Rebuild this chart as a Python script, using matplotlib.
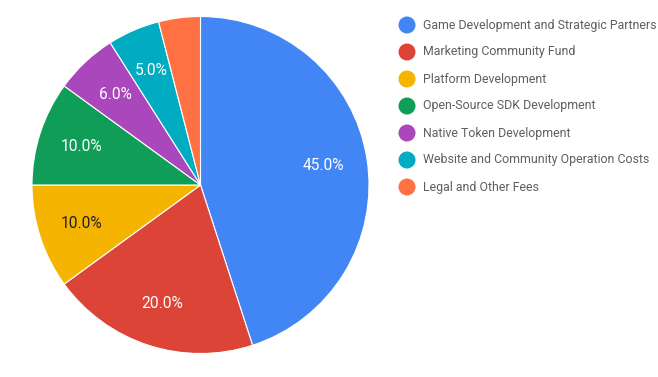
import matplotlib.pyplot as plt

labels = ['Game Development and Strategic Partners', 'Marketing Community Fund',
          'Platform Development', 'Open-Source SDK Development',
          'Native Token Development', 'Website and Community Operation Costs',
          'Legal and Other Fees']
shares = [45.0, 20.0, 10.0, 10.0, 6.0, 5.0, 4.0]
colors = ['#4285F4', '#DB4437', '#F4B400', '#0F9D58', '#AB47BC', '#00ACC1', '#FF7043']

plt.rcParams['font.family'] = ['Roboto', 'DejaVu Sans']

W, H = 658, 377
fig = plt.figure(figsize=(W / 100, H / 100), dpi=100)

cx, cy, r = 200.5, 185, 168.5
ax = fig.add_axes([(cx - r) / W, (H - cy - r) / H, 2 * r / W, 2 * r / H])
wedges, texts = ax.pie(shares, colors=colors, startangle=90, counterclock=False,
                       labels=[f'{v:.1f}%' if v >= 5 else '' for v in shares],
                       labeldistance=0.74,
                       wedgeprops=dict(edgecolor='white', linewidth=0.8))
for t, c in zip(texts, colors):
    t.set_fontsize(11.2)
    t.set_color('#222222' if c == '#F4B400' else 'white')
    t.set_ha('center')
    t.set_va('center')
ax.set_xlim(-1, 1)
ax.set_ylim(-1, 1)

# legend drawn in pixel coordinates
lax = fig.add_axes([0, 0, 1, 1])
lax.set_xlim(0, W)
lax.set_ylim(H, 0)
lax.axis('off')
for i, (lab, c) in enumerate(zip(labels, colors)):
    y = 25 + i * 27
    lax.scatter([407], [y], s=150, color=c, edgecolors='none')
    lax.text(423, y, lab, fontsize=8.9, color='#5f5f5f', va='center', ha='left')

fig.savefig('out.png', dpi=100)
